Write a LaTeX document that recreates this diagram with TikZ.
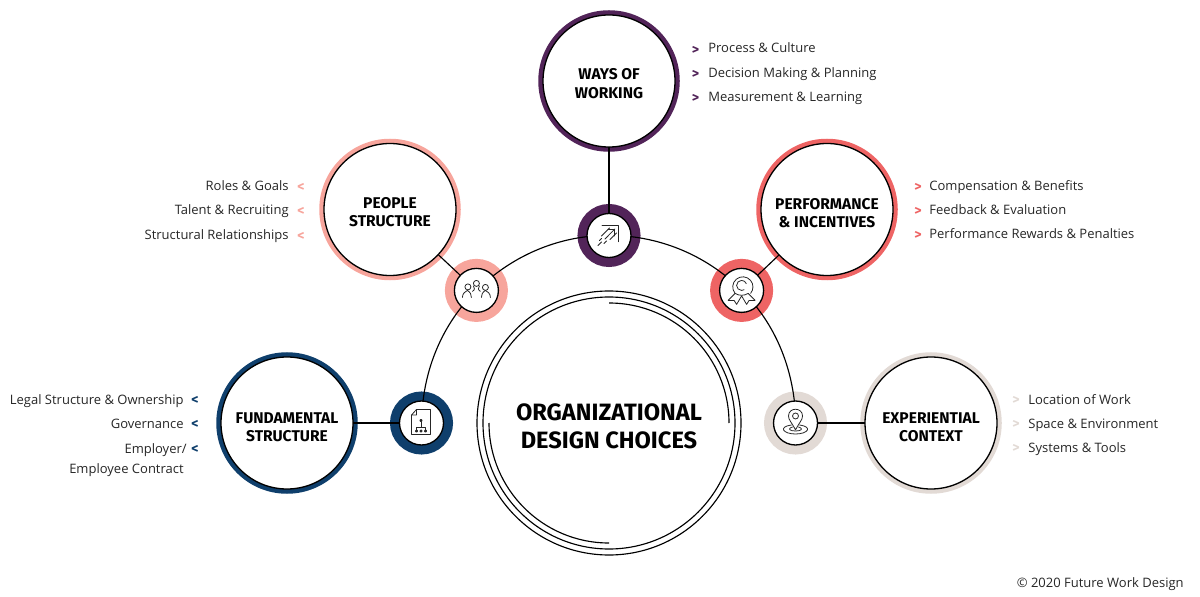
\documentclass[tikz,border=0pt]{standalone}
\usepackage{fontspec}
\setmainfont{Open Sans}
\newfontfamily\titlefont{Fira Sans}
\usetikzlibrary{positioning}

\definecolor{waysc}{HTML}{522459}
\definecolor{pplc}{HTML}{F7A59C}
\definecolor{perfc}{HTML}{EE6464}
\definecolor{fundc}{HTML}{0F3F6C}
\definecolor{expc}{HTML}{E2DAD5}

\tikzset{
	bignode/.style={circle, fill=white, draw=black, line width=.75pt, minimum size=2.64cm, inner sep=0pt, outer sep=0pt,
		preaction={draw=#1, line width=.19cm}},
	bigtitle/.style={font=\titlefont\bfseries\fontsize{8.85}{10.4}\selectfont, align=center, inner sep=0pt},
	iconnode/.style={circle, fill=white, draw=black, line width=.75pt, minimum size=.88cm, inner sep=0pt, outer sep=0pt,
		preaction={draw=#1, line width=.38cm}},
	link/.style={line width=.65pt, black},
	ringline/.style={line width=.65pt, black},
	itemtext/.style={font=\fontsize{7.4}{9}\selectfont, text=black!85, inner sep=0pt},
	chevron/.style={font=\titlefont\bfseries\fontsize{8}{9}\selectfont, text=#1, inner sep=0pt},
	icon/.style={line width=.45pt, black!85, line cap=round, line join=round, x=.02cm, y=.02cm},
}

\begin{document}
\begin{tikzpicture}
	\useasboundingbox (0,0) rectangle (24,11.92);
	
	% centre circle
	\node[circle, draw=black, ringline, minimum size=5.28cm, outer sep=0pt] (org) at (12.18,3.46) {};
	\draw[ringline] (org.center) circle (2.52);
	\draw[ringline] (12.18,5.86) arc[start angle=90, end angle=0, radius=2.4];
	\draw[ringline] (9.78,3.46) arc[start angle=180, end angle=270, radius=2.4];
	\node[font=\titlefont\bfseries\fontsize{13.45}{15.7}\selectfont, align=center] (orgtitle) at (12.18,3.39) {ORGANIZATIONAL\\DESIGN CHOICES};
	
	% big circles
	\node[bignode=waysc] (waysbig) at (12.18,10.3) {};
	\node[bignode=pplc]  (pplbig)  at (7.8,7.73)   {};
	\node[bignode=perfc] (perfbig) at (16.54,7.73) {};
	\node[bignode=fundc] (fundbig) at (5.74,3.46)  {};
	\node[bignode=expc]  (expbig)  at (18.62,3.46) {};
	
	% titles, a little under the middle of each circle
	\node[bigtitle] (waystitle) at ([yshift=-.05cm]waysbig) {WAYS OF\\WORKING};
	\node[bigtitle] (ppltitle)  at ([yshift=-.05cm]pplbig)  {PEOPLE\\STRUCTURE};
	\node[bigtitle] (perftitle) at ([yshift=-.07cm]perfbig) {PERFORMANCE\\\& INCENTIVES};
	\node[bigtitle] (fundtitle) at ([yshift=-.08cm]fundbig) {FUNDAMENTAL\\STRUCTURE};
	\node[bigtitle] (exptitle)  at ([yshift=-.08cm]expbig)  {EXPERIENTIAL\\CONTEXT};
	
	% icon circles on the arc
	\node[iconnode=waysc] (waysicon) at (12.18,7.21) {};
	\node[iconnode=pplc]  (pplicon)  at (9.528,6.112) {};
	\node[iconnode=perfc] (perficon) at (14.832,6.112) {};
	\node[iconnode=fundc] (fundicon) at (8.43,3.46) {};
	\node[iconnode=expc]  (expicon)  at (15.91,3.46) {};
	
	% spokes
	\draw[link] (waysbig) -- (waysicon);
	\draw[link] (pplbig) -- (pplicon);
	\draw[link] (perfbig) -- (perficon);
	\draw[link] (fundbig) -- (fundicon);
	\draw[link] (expbig) -- (expicon);
	
	% arc pieces
	\draw[link] (fundicon.86.6) to[out=83.3, in=231.7, looseness=.87] (pplicon.228.4);
	\draw[link] (pplicon.41.6) to[out=38.3, in=186.7, looseness=.87] (waysicon.183.4);
	\draw[link] (waysicon.-3.4) to[out=-6.7, in=141.7, looseness=.87] (perficon.138.4);
	\draw[link] (perficon.-48.4) to[out=-51.7, in=96.7, looseness=.87] (expicon.93.4);
	
	% lists, right of the circle
	\foreach \i/\ya/\yb/\t in {1/10.92/10.86/{Process \& Culture}, 2/10.44/10.36/{Decision Making \& Planning}, 3/9.96/9.88/{Measurement \& Learning}} {
		\node[chevron=waysc] (wayschev\i) at (13.91,\ya) {>};
		\node[itemtext, anchor=base west] (waysitem\i) at (14.16,\yb) {\t};
	}
	\foreach \i/\ya/\yb/\t in {1/8.18/8.10/{Compensation \& Benefits}, 2/7.70/7.62/{Feedback \& Evaluation}, 3/7.21/7.14/{Performance Rewards \& Penalties}} {
		\node[chevron=perfc] (perfchev\i) at (18.36,\ya) {>};
		\node[itemtext, anchor=base west] (perfitem\i) at (18.58,\yb) {\t};
	}
	\foreach \i/\ya/\yb/\t in {1/3.92/3.84/{Location of Work}, 2/3.44/3.36/{Space \& Environment}, 3/2.96/2.88/{Systems \& Tools}} {
		\node[chevron=expc] (expchev\i) at (20.32,\ya) {>};
		\node[itemtext, anchor=base west] (expitem\i) at (20.56,\yb) {\t};
	}
	
	% lists, left of the circle
	\foreach \i/\ya/\yb/\t in {1/8.18/8.11/{Roles \& Goals}, 2/7.70/7.62/{Talent \& Recruiting}, 3/7.20/7.13/{Structural Relationships}} {
		\node[chevron=pplc] (pplchev\i) at (6.02,\ya) {<};
		\node[itemtext, anchor=base east] (pplitem\i) at (5.78,\yb) {\t};
	}
	\foreach \i/\ya/\yb/\x/\t in {1/3.92/3.84/3.68/{Legal Structure \& Ownership}, 2/3.44/3.36/3.68/{Governance}, 3/2.94/2.86/3.74/{Employer/}} {
		\node[chevron=fundc] (fundchev\i) at (3.9,\ya) {<};
		\node[itemtext, anchor=base east] (funditem\i) at (\x,\yb) {\t};
	}
	\node[itemtext, anchor=base east] (funditem4) at (3.68,2.46) {Employee Contract};
	
	\node[itemtext, anchor=base east] (copyright) at (23.68,0.17) {\copyright{} 2020 Future Work Design};
	
	% arrow icon
	\begin{scope}[shift={(waysicon)}, icon]
		\draw (-7,10.3) -- (9.3,10.3) -- (9.3,-6.3);
		\draw (-1,6.5) -- (5.8,6.5) -- (5.8,-0.5);
		\draw (5.8,6.5) -- (-4,-3.5);
		\draw (0.5,7.5) -- (-7.5,-0.5);
		\draw (7.5,2.5) -- (1,-4);
		\draw (-9.5,-5) -- (-7.5,-3);
		\draw (-5,-8) -- (-2.5,-5.5);
		\draw (-11,-10) -- (-7.5,-6.5);
	\end{scope}
	
	% people icon
	\begin{scope}[shift={(pplicon)}, icon]
		\foreach \hx/\hy in {-8.5/3.5, 0/7, 9/3} {
			\draw (\hx,\hy) circle (3);
		}
		\draw (-14,-7) .. controls (-14,-3) and (-11,-1) .. (-9,0) .. controls (-6,-2) and (-5,-4) .. (-5,-7);
		\draw (-3,4.5) .. controls (-2,2) and (-1,1) .. (-4,-1);
		\draw (3,4.5) .. controls (2,2) and (1,1) .. (4,-1);
		\draw (5,-7) .. controls (5,-4) and (6,-2) .. (9,0) .. controls (11,-1) and (14,-3) .. (14,-7);
	\end{scope}
	
	% rosette icon
	\begin{scope}[shift={(perficon)}, icon]
		\draw (-6.5,-3) arc[start angle=220, end angle=-40, radius=10.1];
		\draw (-5,5) arc[start angle=180, end angle=20, radius=5];
		\draw (-5,5) arc[start angle=180, end angle=300, radius=5];
		\draw (-6.5,-3) -- (-13.5,-10) -- (-7.5,-10) -- (-5,-14) -- (0,-5.5) -- (5,-14) -- (7.5,-10) -- (13.5,-10) -- (6.5,-3);
		\draw (-6.5,-3) .. controls (-3,-5.5) and (3,-5.5) .. (6.5,-3);
	\end{scope}
	
	% document icon
	\begin{scope}[shift={(fundicon)}, icon]
		\draw (-10,8) -- (-5,13.5) -- (9,13.5) -- (9,-11.5) -- (-10,-11.5) -- (-10,8) -- (-5,8) -- (-5,13.5);
		\draw (-0.5,1) -- (-0.5,-4);
		\draw (-5,-7) -- (-5,-4) -- (4,-4) -- (4,-7);
		\draw[fill=black!85] (-0.5,2.5) circle (1.2);
		\foreach \dx in {-5,-0.5,4} {
			\draw[fill=black!85] (\dx,-8) circle (1.2);
		}
	\end{scope}
	
	% pin icon
	\begin{scope}[shift={(expicon)}, icon]
		\draw (0,-7) .. controls (-4,1) and (-7,3) .. (-7,7) .. controls (-7,16) and (7,16) .. (7,7) .. controls (7,3) and (4,1) .. (0,-7);
		\draw (0,7) circle (3);
		\draw (-4,-2) .. controls (-18,-4) and (-12,-11) .. (0,-11) .. controls (12,-11) and (18,-4) .. (4,-2);
		\draw (-3,-4) .. controls (-9,-6) and (-5,-8) .. (0,-8) .. controls (5,-8) and (9,-6) .. (3,-4);
	\end{scope}
	
\end{tikzpicture}
\end{document}
